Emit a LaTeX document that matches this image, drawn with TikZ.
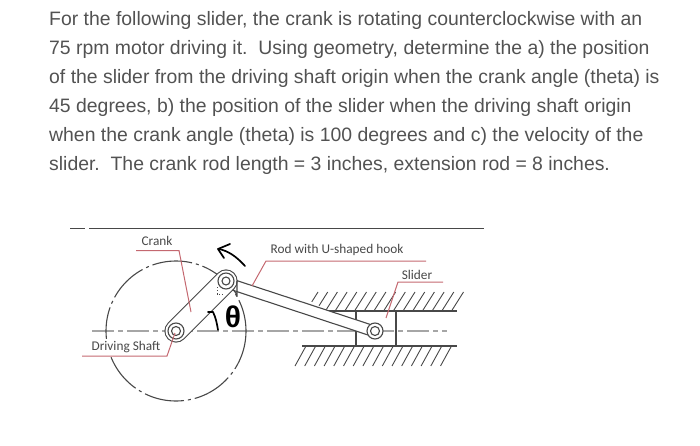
\documentclass[tikz,border=0pt]{standalone}
\usepackage{fontspec}
\setmainfont{Liberation Sans}
\newfontfamily\labelfont{Carlito}
\usetikzlibrary{positioning,calc}
\definecolor{leadercol}{RGB}{196,104,112}
\definecolor{inkcol}{RGB}{72,72,72}
\definecolor{txtcol}{RGB}{82,82,82}
\tikzset{
  para/.style={anchor=base west,inner sep=0pt,text=txtcol,font=\fontsize{19.4}{21}\selectfont},
  lab/.style={inner sep=0pt,text=inkcol,font=\labelfont\fontsize{13.3}{15}\selectfont},
  leader/.style={leadercol,line width=1pt},
  part/.style={inkcol,line width=1.1pt},
  axisline/.style={black!35,line width=1.3pt,dash pattern=on 22pt off 4pt on 5pt off 4pt},
  hand/.style={black,line width=1.7pt,line cap=round,line join=round},
}
\begin{document}
\begin{tikzpicture}[x=1pt,y=-1pt]
      \useasboundingbox (0,0) rectangle (700,446);
      \coordinate (o) at (176,331);
      \coordinate (p) at (226,281);
      \coordinate (s) at (375,331);

      % question text
      \node[para] (l1) at (49,26) {For the following slider, the crank is rotating counterclockwise with an};
      \node[para] (l2) at (49,55) {75 rpm motor driving it.\ \ Using geometry, determine the a) the position};
      \node[para] (l3) at (49,84) {of the slider from the driving shaft origin when the crank angle (theta) is};
      \node[para] (l4) at (49,113) {45 degrees, b) the position of the slider when the driving shaft origin};
      \node[para] (l5) at (49,142) {when the crank angle (theta) is 100 degrees and c) the velocity of the};
      \node[para] (l6) at (49,171) {slider.\ \ The crank rod length = 3 inches, extension rod = 8 inches.};

      % top rule
      \coordinate (r0) at (70,228);
      \coordinate (r1) at (85,228);
      \coordinate (r2) at (89,228);
      \coordinate (r3) at (484,228);
      \draw[inkcol,line width=.8pt] (r0) -- (r1);
      \draw[inkcol,line width=.8pt] (r2) -- (r3);

      % axis and circle
      \coordinate (a0) at (92,331);
      \coordinate (a1) at (447,331);
      \draw[axisline] (a0) -- (a1);
      \draw[part,dash pattern=on 40pt off 4pt on 3pt off 4pt] (o) circle (70);

      % guides
      \coordinate (g0) at (310,311);
      \coordinate (g1) at (457,311);
      \coordinate (g2) at (302,346);
      \coordinate (g3) at (457,346);
      \draw[part] (g0) -- (g1);
      \draw[part] (g2) -- (g3);
      \begin{scope}
        \clip (300,295.6) -- (329,311) -- (470,311) -- (470,285) -- (300,285) -- cycle;
        \foreach \i in {0,...,15}
          \draw[part,line width=.9pt] (318+9.7*\i,292) -- ++(-12,19);
      \end{scope}
      \foreach \i in {0,...,15}
        \draw[part,line width=.9pt] (306+9.7*\i,346) -- ++(-11,20);

      % slider
      \coordinate (b0) at (356,311);
      \coordinate (b1) at (396,311);
      \coordinate (b2) at (356,346);
      \coordinate (b3) at (396,346);
      \draw[part] (b0) -- (b2);
      \draw[part] (b1) -- (b3);

      % rod
      \coordinate (ru0) at (232,279);
      \coordinate (ru1) at (372,325);
      \coordinate (rl0) at (232,290);
      \coordinate (rl1) at (368,335);
      \fill[white] (ru0) -- (ru1) -- (rl1) -- (rl0) -- cycle;
      \draw[part] (ru0) -- (ru1);
      \draw[part] (rl0) -- (rl1);
      \draw[part,fill=white] (s) circle (8);
      \draw[part,fill=white] (s) circle (4.5);

      % crank
      \draw[inkcol,line width=23.2pt,line cap=round] (o) -- (p);
      \draw[white,line width=21pt,line cap=round] (o) -- (p);
      \coordinate (h0) at (237,281);
      \coordinate (h1) at (237,295);
      \coordinate (h2) at (233,289);
      \draw[part] (h0) -- (h1) -- (h2);
      \draw[part] (o) circle (8);
      \draw[part,fill=white] (o) circle (4.5);
      \draw[part] (p) circle (8);
      \draw[part,fill=white] (p) circle (4);
      \draw[part,dotted,line width=.6pt] (217,287) -- (217,294) -- (223,294);

      % leaders and labels
      \node[lab] (crank) at (157,241) {Crank};
      \node[lab,fill=white,inner ysep=2pt] (shaft) at (126,347) {Driving Shaft};
      \node[lab] (rod) at (337,250) {Rod with U-shaped hook};
      \node[lab] (slider) at (417,275) {Slider};
      \draw[leader] (136,250.5) -- (179,250.5) -- (191,312);
      \draw[leader] (82,356) -- (167,356) -- (175,333);
      \draw[leader] (426,261) -- (266,261) -- (252,286);
      \draw[leader] (443,282) -- (398,282) -- (386,318);

      % rotation arrow and angle added by hand
      \draw[hand] (245,266) .. controls (236,256) and (228,251) .. (219,249);
      \draw[hand] (230,244) -- (218,249) -- (224,258);
      \draw[hand] (208,312) -- (213,312) .. controls (216,318) and (217,324) .. (218,330);
      \node[inner sep=0pt,font=\bfseries\fontsize{30}{30}\selectfont,text=black] (theta) at (233,317) {θ};
\end{tikzpicture}
\end{document}
